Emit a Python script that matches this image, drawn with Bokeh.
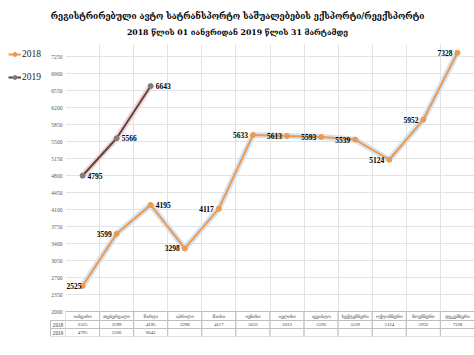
from bokeh.plotting import figure
from bokeh.layouts import column, row
from bokeh.models import Range1d, FixedTicker, Legend, LegendItem, ColumnDataSource, LabelSet, Label
from bokeh.core.properties import value
from bokeh.embed import file_html
from bokeh.resources import INLINE

# ---------------- data ----------------
TITLE_LINES = [
    "რეგისტრირებული ავტო სატრანსპორტო საშუალებების ექსპორტი/რეექსპორტი",
    "2018 წლის 01 იანვრიდან 2019 წლის 31 მარტამდე",
]
MONTHS = ["იანვარი", "თებერვალი", "მარტი", "აპრილი", "მაისი", "ივნისი",
          "ივლისი", "აგვისტო", "სექტემბერი", "ოქტომბერი", "ნოემბერი", "დეკემბერი"]
SERIES_NAMES = ["2018", "2019"]
VALUES_2018 = [2525, 3599, 4195, 3298, 4117, 5633, 5613, 5593, 5539, 5124, 5952, 7328]
VALUES_2019 = [4795, 5566, 6643]
Y_TICKS = [2000, 2350, 2700, 3050, 3400, 3750, 4100, 4450, 4800, 5150,
           5500, 5850, 6200, 6550, 6900, 7250]

# ---------------- style / layout ----------------
W, H = 474, 355
TITLE_H = 44
BODY_H = H - TITLE_H
BOTTOM_PAD = 19
FRAME_H = BODY_H - BOTTOM_PAD
STRIP_W = 65
MAIN_W = W - STRIP_W
ROWLABEL_W = 15
TICK_LABEL_GAP = 3
TABLE_ROWS_PX = [9, 8, 8]             # header, 2018, 2019 (px heights)
TABLE_PX = sum(TABLE_ROWS_PX)
TOP_GAP_PX = 12
LEGEND_TOP = 45
C2018, C2019 = "#EE9A4D", "#5B4646"
M2019 = "#7F7F7F"
GLOW2018, GLOW2019 = "#CFE0F2", "#F3CFCF"
GRID = "#E3E3E3"
TBL_LINE = "#BFBFBF"
SERIF = "Liberation Serif"
GEO = "DejaVu Serif"
LABEL_DX_2018 = [-1, -5, 5, -5, -5, -5, -5, -5, -5, -5, -5, -5]

ppu = (FRAME_H - TABLE_PX - TOP_GAP_PX) / (Y_TICKS[-1] - Y_TICKS[0])
y_range = Range1d(Y_TICKS[0] - TABLE_PX / ppu, Y_TICKS[-1] + TOP_GAP_PX / ppu)
tbl_range = Range1d(0, FRAME_H)

def bare(fig):
    fig.outline_line_color = None
    fig.background_fill_color = "white"
    fig.border_fill_color = "white"
    return fig

# ---------------- title strip ----------------
pt = bare(figure(width=W, height=TITLE_H, output_backend="svg", toolbar_location=None,
                 x_range=Range1d(0, W), y_range=Range1d(0, TITLE_H),
                 x_axis_location=None, y_axis_location=None, min_border=0))
pt.grid.visible = False
for txt, yy, fs in zip(TITLE_LINES, [TITLE_H - 15, TITLE_H - 32], ["8.35px", "7.75px"]):
    pt.add_layout(Label(x=237, y=yy, text=txt, text_align="center",
                        text_baseline="middle", text_font=GEO, text_font_style="bold",
                        text_font_size=fs, text_color="black"))

# ---------------- main chart ----------------
n = len(MONTHS)
p = bare(figure(width=MAIN_W, height=BODY_H, output_backend="svg", toolbar_location=None,
                x_range=Range1d(0, n), y_range=y_range,
                x_axis_location=None, y_axis_location=None,
                min_border=0, min_border_bottom=BOTTOM_PAD))
p.extra_y_ranges = {"tbl": tbl_range}
p.xgrid.ticker = FixedTicker(ticks=list(range(n + 1)))
p.xgrid.grid_line_color = GRID
p.ygrid.ticker = FixedTicker(ticks=Y_TICKS)
p.ygrid.grid_line_color = GRID

x18 = [i + 0.5 for i in range(len(VALUES_2018))]
x19 = [i + 0.5 for i in range(len(VALUES_2019))]
p.line(x18, VALUES_2018, line_color=GLOW2018, line_width=6, line_alpha=0.9)
p.line(x19, VALUES_2019, line_color=GLOW2019, line_width=6, line_alpha=0.9)
p.line(x18, VALUES_2018, line_color=C2018, line_width=2)
p.scatter(x18, VALUES_2018, size=5, color=C2018)
p.line(x19, VALUES_2019, line_color=C2019, line_width=2)
p.scatter(x19, VALUES_2019, size=5, color=M2019)

def add_labels(xs, ys, dxs):
    for dx in sorted(set(dxs)):
        sel = [i for i, d in enumerate(dxs) if d == dx]
        src = ColumnDataSource(dict(x=[xs[i] for i in sel], y=[ys[i] for i in sel],
                                    t=[str(ys[i]) for i in sel]))
        p.add_layout(LabelSet(x="x", y="y", text="t", source=src, x_offset=dx,
                              text_align="right" if dx < 0 else "left",
                              text_baseline="middle", text_font=value(SERIF),
                              text_font_style="bold", text_font_size="7.5px",
                              text_color="black"))

add_labels(x18, VALUES_2018, LABEL_DX_2018)
add_labels(x19, VALUES_2019, [5] * len(VALUES_2019))

# table under the chart
row_spans = []
acc = TABLE_PX
for h in TABLE_ROWS_PX:
    row_spans.append((acc - h, acc))
    acc -= h
rows_text = [MONTHS,
             [str(v) for v in VALUES_2018],
             [str(v) for v in VALUES_2019] + [""] * (n - len(VALUES_2019))]
for r, ((b, t), texts) in enumerate(zip(row_spans, rows_text)):
    p.quad(left=list(range(n)), right=list(range(1, n + 1)),
           bottom=[b] * n, top=[t] * n, y_range_name="tbl",
           fill_color="white", line_color=TBL_LINE, line_width=1)
    p.text(x=[i + 0.5 for i in range(n)], y=[(b + t) / 2] * n, text=texts,
           y_range_name="tbl", text_align="center", text_baseline="middle",
           text_font=value(GEO if r == 0 else SERIF),
           text_font_size="4.4px" if r == 0 else "4.8px", text_color="#333333")

# ---------------- left strip: legend, y tick labels, row labels ----------------
ps = bare(figure(width=STRIP_W, height=BODY_H, output_backend="svg", toolbar_location=None,
                 x_range=Range1d(0, STRIP_W), y_range=y_range,
                 x_axis_location=None, y_axis_location=None,
                 min_border=0, min_border_bottom=BOTTOM_PAD))
ps.extra_y_ranges = {"tbl": tbl_range}
ps.grid.visible = False

# y tick labels, placed on the shared y scale
ps.text(x=[STRIP_W - TICK_LABEL_GAP] * len(Y_TICKS), y=Y_TICKS,
        text=[str(t) for t in Y_TICKS], text_align="right", text_baseline="middle",
        text_font=value(SERIF), text_font_size="5.6px", text_color="#595959")

# table row-label cells
lab_spans = row_spans[1:]
ps.quad(left=[STRIP_W - ROWLABEL_W] * len(lab_spans), right=[STRIP_W] * len(lab_spans),
        bottom=[b for b, t in lab_spans], top=[t for b, t in lab_spans],
        y_range_name="tbl", fill_color="white", line_color=TBL_LINE, line_width=1)
ps.text(x=[STRIP_W - ROWLABEL_W / 2] * len(lab_spans),
        y=[(b + t) / 2 for b, t in lab_spans], text=SERIES_NAMES,
        y_range_name="tbl", text_align="center", text_baseline="middle",
        text_font=value(SERIF), text_font_size="5.2px", text_color="#333333")

# legend proxies (kept outside the strip's visible x range)
k18 = [ps.line([-20, -10], VALUES_2018[:2], line_color=C2018, line_width=2),
       ps.scatter([-20], VALUES_2018[:1], size=5, color=C2018)]
k19 = [ps.line([-20, -10], VALUES_2019[:2], line_color=C2019, line_width=2),
       ps.scatter([-20], VALUES_2019[:1], size=5, color=M2019)]
legend_h = 2 * 10 + 13 + 4
legend = Legend(items=[LegendItem(label=SERIES_NAMES[0], renderers=k18),
                       LegendItem(label=SERIES_NAMES[1], renderers=k19)],
                location=(8, TITLE_H + FRAME_H - LEGEND_TOP - legend_h),
                orientation="vertical",
                glyph_width=13, glyph_height=10, label_height=10,
                label_standoff=1, spacing=13, padding=2, margin=0,
                label_text_font=SERIF, label_text_font_size="9.5px",
                label_text_color="#222222",
                border_line_color=None, background_fill_alpha=0)
ps.add_layout(legend)

layout = column(pt, row(ps, p, spacing=0), spacing=0)
open("out.html", "w").write(file_html(layout, INLINE))
